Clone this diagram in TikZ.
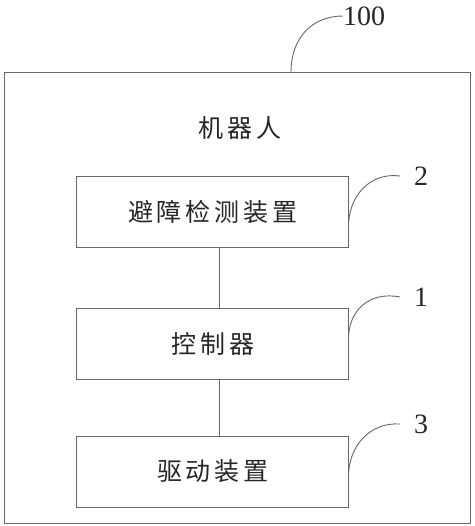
\documentclass[tikz,border=0pt]{standalone}
\usepackage{fontspec}
\setmainfont{Liberation Serif}
\newfontfamily\cjk[LetterSpace=16]{Noto Sans CJK SC}
\begin{document}
\begin{tikzpicture}[x=1pt,y=-1pt,
  line/.style={draw=black!60, line width=0.9pt},
  cjktext/.style={font=\cjk\fontsize{25}{25}\selectfont, text=black!85},
  box/.style={line, rectangle, minimum width=272pt, minimum height=71pt, inner sep=0pt, cjktext},
  num/.style={font=\fontsize{28}{28}\selectfont, inner sep=0pt, anchor=west, text=black!85}]
\useasboundingbox (0,0) rectangle (474,526);
\node[line, rectangle, minimum width=466pt, minimum height=451pt, inner sep=0pt, anchor=north west] (robot) at (4,72) {};
\node[cjktext] (title) at (240,128) {机器人};
\node[box] (sense) at (212,211.5) {\hspace*{2pt}避障检测装置};
\node[box] (ctrl) at (212,343.5) {\hspace*{2pt}控制器};
\node[box] (drive) at (212,471.5) {\hspace*{2pt}驱动装置};
\draw[line] ([xshift=7pt]sense.south) -- ([xshift=7pt]ctrl.north);
\draw[line] ([xshift=7pt]ctrl.south) -- ([xshift=7pt]drive.north);
\node[num] (n100) at (343,16) {100};
\node[num] (n2) at (414,176) {2};
\node[num] (n1) at (414,297) {1};
\node[num] (n3) at (414,424) {3};
\coordinate (r100) at (291,72);
\draw[line] (r100) .. controls (291,38) and (312,16) .. (n100.west);
\draw[line] ([yshift=-16.5pt]sense.east) .. controls (348,196) and (370,172) .. ([xshift=-14pt]n2.west);
\draw[line] ([yshift=3.5pt]ctrl.east) .. controls (348,310) and (370,291) .. ([xshift=-14pt]n1.west);
\draw[line] ([yshift=-6.5pt]drive.east) .. controls (348,446) and (370,422) .. ([xshift=-14pt]n3.west);
\end{tikzpicture}
\end{document}
